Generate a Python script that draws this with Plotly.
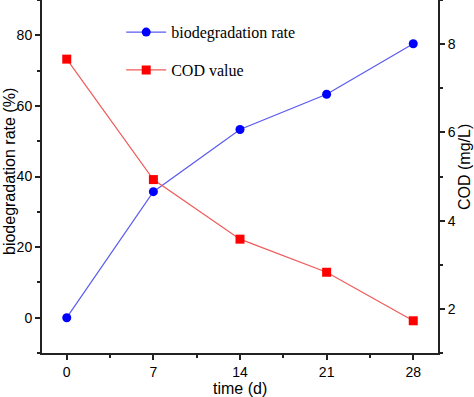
import plotly.graph_objects as go

time_d = [0, 7, 14, 21, 28]
biodeg_rate = [0, 35.7, 53.3, 63.3, 77.6]
cod_value = [7.66, 4.93, 3.58, 2.83, 1.73]
x_ticks = [0, 7, 14, 21, 28]

fig = go.Figure()
fig.add_trace(go.Scatter(
    x=time_d, y=biodeg_rate, name="biodegradation rate", mode="lines+markers",
    line=dict(color="#5a5af0", width=1.2),
    marker=dict(color="#0000ff", size=9, symbol="circle"),
    legendgroup="a", yaxis="y"))
fig.add_trace(go.Scatter(
    x=time_d, y=cod_value, name="COD value", mode="lines+markers",
    line=dict(color="#f05a5a", width=1.2),
    marker=dict(color="#ff0000", size=9, symbol="square"),
    legendgroup="b", yaxis="y2"))

axis_font = dict(family="Liberation Sans, Arial", size=14, color="black")
title_font = dict(family="Liberation Sans, Arial", size=16, color="black")

W, H = 474, 397
L, R, T, B = 42, 36, 0, 44
pw, ph = W - L - R, H - T - B

def px_x(p):
    return (p - L) / pw

def px_y(p):
    return 1 - (p - T) / ph

fig.update_layout(
    width=W, height=H,
    margin=dict(l=L, r=R, t=T, b=B, autoexpand=False),
    paper_bgcolor="white", plot_bgcolor="white",
    showlegend=True,
    legend=dict(x=0.2, y=0.957, xanchor="left", yanchor="top",
                font=dict(family="Liberation Serif, Times New Roman", size=16, color="black"),
                bgcolor="rgba(0,0,0,0)", tracegroupgap=14, itemwidth=40),
    xaxis=dict(range=[-2, 30], tickvals=x_ticks, ticks="outside", ticklen=5,
               tickwidth=1.5, tickcolor="#222", showline=True, linecolor="#222",
               linewidth=2, showgrid=False, zeroline=False, tickfont=axis_font,
               automargin=False,
               minor=dict(dtick=3.5, tick0=0, ticks="outside", ticklen=3, tickwidth=1.5, tickcolor="#222")),
    yaxis=dict(range=[-10, 90], dtick=20, tick0=0, ticks="outside", ticklen=5,
               tickwidth=1.5, tickcolor="#222", showline=True, linecolor="#222",
               linewidth=2, showgrid=False, zeroline=False, tickfont=axis_font,
               automargin=False,
               minor=dict(dtick=10, tick0=0, ticks="outside", ticklen=3, tickwidth=1.5, tickcolor="#222")),
    yaxis2=dict(range=[1, 9], dtick=2, tick0=0, overlaying="y", side="right",
                ticks="outside", ticklen=5, tickwidth=1.5, tickcolor="#222",
                showline=True, linecolor="#222", linewidth=2, showgrid=False,
                zeroline=False, tickfont=axis_font, automargin=False,
                minor=dict(dtick=1, tick0=0, ticks="outside", ticklen=3, tickwidth=1.5, tickcolor="#222")),
    annotations=[
        dict(text="time (d)", xref="paper", yref="paper", x=px_x(240), y=px_y(388),
             xanchor="center", yanchor="middle", showarrow=False, font=title_font),
        dict(text="biodegradation rate (%)", xref="paper", yref="paper", x=px_x(10), y=px_y(172),
             xanchor="center", yanchor="middle", textangle=-90, showarrow=False, font=title_font),
        dict(text="COD (mg/L)", xref="paper", yref="paper", x=px_x(464), y=px_y(167),
             xanchor="center", yanchor="middle", textangle=-90, showarrow=False, font=title_font),
    ],
)

fig.write_html("out.html", config={"displayModeBar": False},
               post_script="document.body.style.margin='0';")
